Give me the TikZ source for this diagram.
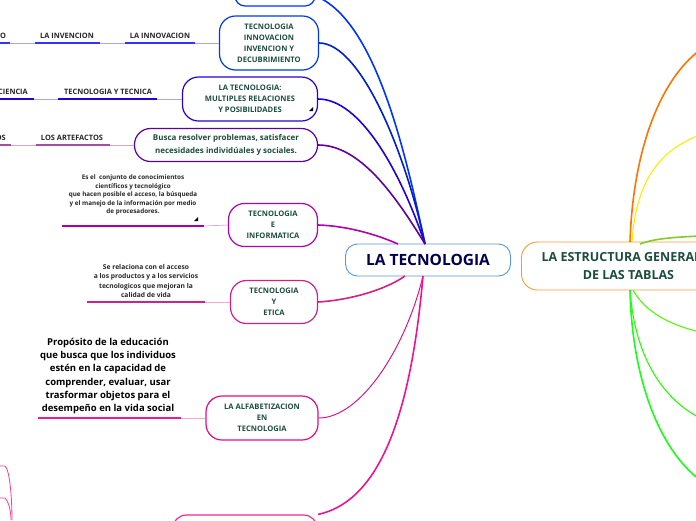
\documentclass[tikz,border=0pt]{standalone}
\usepackage{fontspec}
\setmainfont{Open Sans}
\definecolor{tg}{HTML}{1B4D3E}
\begin{document}
\begin{tikzpicture}[x=1pt,y=-1pt,
  topic/.style={draw,line width=1.2pt,rounded corners=16pt,align=center,font=\bfseries\fontsize{7.6}{11}\selectfont,text=tg,inner sep=2pt},
  lab/.style={font=\bfseries\fontsize{7.4}{8}\selectfont,text=black!85,inner sep=1pt,anchor=south},
  br/.style={line width=1.6pt},
  thin/.style={line width=0.7pt}]
\useasboundingbox (0,0) rectangle (696,520);
\node[draw=cyan!60!blue!70,line width=0.9pt,rounded corners=12pt,minimum width=165pt,minimum height=32pt,font=\bfseries\fontsize{15.5}{17}\selectfont,text=blue!30!black] (c) at (428,260) {LA TECNOLOGIA};
\node[draw=orange!80,line width=0.9pt,rounded corners=16pt,minimum width=214pt,minimum height=48pt,align=center,font=\bfseries\fontsize{12.5}{18}\selectfont,text=tg,anchor=west] (r) at (521,266) {\hspace*{-14pt}LA ESTRUCTURA GENERAL\\DE LAS TABLAS};
\coordinate (ct) at (425,244); \coordinate (cb) at (423,276);
\coordinate (rt) at (630,242); \coordinate (rb) at (630,290);
% right branches
\coordinate (r1) at (700,50); \coordinate (r2) at (700,135); \coordinate (r3) at (700,236);
\coordinate (r4) at (700,332); \coordinate (r5) at (700,418); \coordinate (r6) at (700,480);
\draw[br,orange!90!red] (rt) .. controls (633,150) and (660,80) .. (r1);
\draw[line width=1.1pt,yellow!95!orange] (632,242) .. controls (636,180) and (660,150) .. (r2);
\draw[br,yellow!50!green] (640,244) .. controls (655,238) and (680,237) .. (r3);
\draw[line width=1.1pt,green!70!yellow] (633,290) .. controls (645,312) and (670,325) .. (r4);
\draw[line width=1.1pt,green!85!yellow] (rb) .. controls (635,360) and (665,400) .. (r5);
\draw[br,green!90] (rb) .. controls (632,380) and (660,450) .. (r6);
% left nodes
\node[draw=blue!80!cyan,line width=1.2pt,rounded corners=10pt,minimum width=80pt,minimum height=20pt] (n0) at (275,-4) {};
\node[topic,draw=blue!75!cyan!90!black,minimum width=99pt,minimum height=54pt] (n1) at (269,43) {TECNOLOGIA\\INNOVACION\\INVENCION Y\\DECUBRIMIENTO};
\node[topic,draw=blue!70!violet,minimum width=135pt,minimum height=44pt] (n2) at (250,99) {LA TECNOLOGIA:\\MULTIPLES RELACIONES\\Y POSIBILIDADES};
\node[topic,draw=violet!70!blue,minimum width=183pt,minimum height=33pt,font=\bfseries\fontsize{8}{13}\selectfont] (n3) at (226,145) {Busca resolver problemas, satisfacer\\necesidades individúales y sociales.};
\node[topic,draw=violet!60!magenta,minimum width=89pt,minimum height=43pt] (n4) at (273,225) {TECNOLOGIA\\E\\INFORMATICA};
\node[topic,draw=magenta!70!violet,minimum width=87pt,minimum height=43pt] (n5) at (274,302) {TECNOLOGIA\\Y\\ETICA};
\node[topic,draw=magenta!90!violet,minimum width=112pt,minimum height=44pt] (n6) at (262,418) {LA ALFABETIZACION\\EN\\TECNOLOGIA};
\node[draw=magenta!80!pink,line width=1.2pt,rounded corners=14pt,minimum width=145pt,minimum height=30pt] (n7) at (245,530) {};
\fill[black] (313,107) -- (313,111) -- (309,111) -- cycle;
% main branches
\draw[br,blue!80!cyan] (ct) .. controls (405,150) and (375,20) .. (n0.east);
\draw[br,blue!85!cyan!80!black] (ct) .. controls (405,150) and (360,43) .. (n1.east);
\draw[br,blue!75!violet] (ct) .. controls (400,170) and (360,99) .. (n2.east);
\draw[br,violet!75!blue] (ct) .. controls (395,195) and (360,145) .. (n3.east);
\draw[br,violet!60!magenta] (398,244) .. controls (380,236) and (350,226) .. (n4.east);
\draw[br,magenta!70!violet] (405,276) .. controls (385,290) and (350,300) .. (n5.east);
\draw[line width=1pt,magenta!80!violet] (cb) .. controls (405,350) and (360,418) .. (n6.east);
\draw[br,magenta!90!pink] (cb) .. controls (412,400) and (385,500) .. (n7.north east);
% n1 chain
\node[lab] (a1) at (160,40) {LA INNOVACION};
\node[lab] (a2) at (67,40) {LA INVENCION};
\node[lab] (a3) at (3,40) {O};
\draw[thin,blue!35] (n1.west) -- (195,43) (125,43) -- (100,43) (35,43) -- (10,43);
\draw[line width=1.3pt,blue!80] (125,43) -- (195,43) (35,43) -- (100,43) (0,43) -- (10,43);
% n2 chain
\node[lab] (b1) at (108,96) {TECNOLOGIA Y TECNICA};
\node[lab,anchor=south east] (b2) at (29,96) {CIENCIA};
\draw[thin,blue!35] (n2.west) -- (157,99) (58,99) -- (34,99);
\draw[line width=1.3pt,blue!70!violet] (58,99) -- (157,99) (0,99) -- (34,99);
% n3 chain
\node[lab] (d1) at (72,142) {LOS ARTEFACTOS};
\node[lab,anchor=south east] (d2) at (7,142) {OS};
\draw[thin,violet!35] (n3.west) -- (110,145) (36,145) -- (11,145);
\draw[line width=1.3pt,violet!70] (36,145) -- (110,145) (0,145) -- (11,145);
% n4 note
\node[font=\bfseries\fontsize{6.3}{8.5}\selectfont,align=center,text=black!85,inner sep=0] (e1) at (133,195) {Es el\ \ conjunto de conocimientos\\científicos y tecnológico\\que hacen posible el acceso, la búsqueda\\y el manejo de la información por medio\\de procesadores.};
\fill[black] (198,217) -- (198,221) -- (194,221) -- cycle;
\draw[thin,violet!35] (n4.west) -- (204,226);
\draw[line width=1.3pt,violet!70!magenta] (62,226) -- (204,226);
% n5 note
\node[font=\bfseries\fontsize{6.7}{9.5}\selectfont,align=center,text=black!85,inner sep=0] (e2) at (146,281) {Se relaciona con el acceso\\a los productos y a los servicios\\tecnologicos que mejoran la\\calidad de vida};
\draw[thin,magenta!35] (n5.west) -- (205,302);
\draw[line width=1.3pt,magenta!70!violet] (87,302) -- (205,302);
% n6 note
\node[font=\bfseries\fontsize{9.5}{13.3}\selectfont,align=center,text=black,inner sep=0] (e3) at (108,376) {Propósito de la educación\\que busca que los individuos\\estén en la capacidad de\\comprender, evaluar, usar\\trasformar objetos para el\\desempeño en la vida social};
\draw[thin,magenta!35] (n6.west) -- (181,418);
\draw[line width=1.3pt,magenta!90] (38,418) -- (181,418);
% bottom-left small branches
\coordinate (p0) at (0,466); \coordinate (p1) at (0,498);
\draw[line width=0.8pt,magenta!70!pink] (p0) -- (5,466) .. controls (10,470) and (12,500) .. (12,520);
\draw[line width=0.8pt,magenta!70!pink] (p1) -- (5,498) .. controls (9,502) and (11,512) .. (11,520);
\end{tikzpicture}
\end{document}
